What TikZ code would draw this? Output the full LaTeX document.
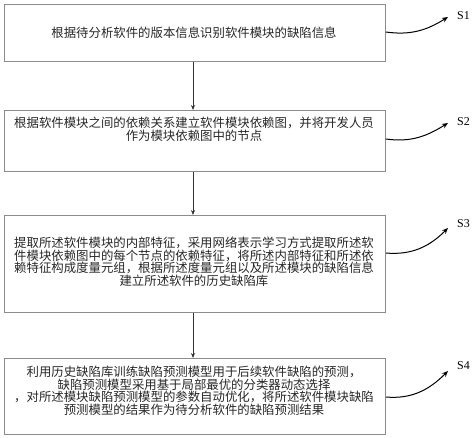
\documentclass[tikz,border=0pt]{standalone}
\usepackage{fontspec}
\setmainfont{Liberation Serif}
\newfontfamily\cjk{Noto Sans CJK SC}
\usetikzlibrary{arrows.meta}
\begin{document}
\begin{tikzpicture}[x=1pt,y=-1pt,
  stepbox/.style={draw=black!45,line width=0.8pt,minimum width=381pt,inner sep=0pt,anchor=north west},
  txt/.style={align=center,inner sep=0pt,font=\cjk\fontsize{12.4}{12.5}\selectfont,text=black!85},
  flow/.style={draw=black!80,line width=0.8pt,-{Stealth[length=5pt,width=4pt]}},
  tag/.style={draw=black,line width=1pt,-{Stealth[length=6pt,width=5pt]}},
  slabel/.style={font=\fontsize{12}{12}\selectfont,inner sep=0pt,anchor=west}]
\useasboundingbox (0,0) rectangle (474,437);
\node[stepbox,minimum height=57pt] (b1) at (4,4) {};
\node[stepbox,minimum height=61pt] (b2) at (4,110) {};
\node[stepbox,minimum height=97pt] (b3) at (4,215) {};
\node[stepbox,minimum height=76pt] (b4) at (4,358) {};
\node[txt] (t1) at (194,32.5) {根据待分析软件的版本信息识别软件模块的缺陷信息};
\node[txt] (t2) at (194,129.5) {根据软件模块之间的依赖关系建立软件模块依赖图，并将开发人员\\作为模块依赖图中的节点};
\node[txt] (t3) at (194,261.5) {提取所述软件模块的内部特征，采用网络表示学习方式提取所述软\\件模块依赖图中的每个节点的依赖特征，将所述内部特征和所述依\\赖特征构成度量元组，根据所述度量元组以及所述模块的缺陷信息\\建立所述软件的历史缺陷库};
\node[txt] (t4) at (194,391) {利用历史缺陷库训练缺陷预测模型用于后续软件缺陷的预测，\\缺陷预测模型采用基于局部最优的分类器动态选择\\，对所述模块缺陷预测模型的参数自动优化，将所述软件模块缺陷\\预测模型的结果作为待分析软件的缺陷预测结果};
\draw[flow] (b1.south -| 193,0) -- (b2.north -| 193,0);
\draw[flow] (b2.south -| 193,0) -- (b3.north -| 193,0);
\draw[flow] (b3.south -| 193,0) -- (b4.north -| 193,0);
\node[slabel] (s1) at (457,16) {S1};
\node[slabel] (s2) at (457,122) {S2};
\node[slabel] (s3) at (457,224) {S3};
\node[slabel] (s4) at (457,366) {S4};
\coordinate (e1) at (448,17);
\coordinate (e2) at (448,123);
\coordinate (e3) at (448,228);
\coordinate (e4) at (448,371);
\draw[tag] (b1.east |- 0,32) to[out=-8,in=-148] (e1);
\draw[tag] (b2.east |- 0,139) to[out=-8,in=-148] (e2);
\draw[tag] (b3.east |- 0,253) to[out=-5,in=-135] (e3);
\draw[tag] (b4.east |- 0,397) to[out=-5,in=-135] (e4);
\end{tikzpicture}
\end{document}
